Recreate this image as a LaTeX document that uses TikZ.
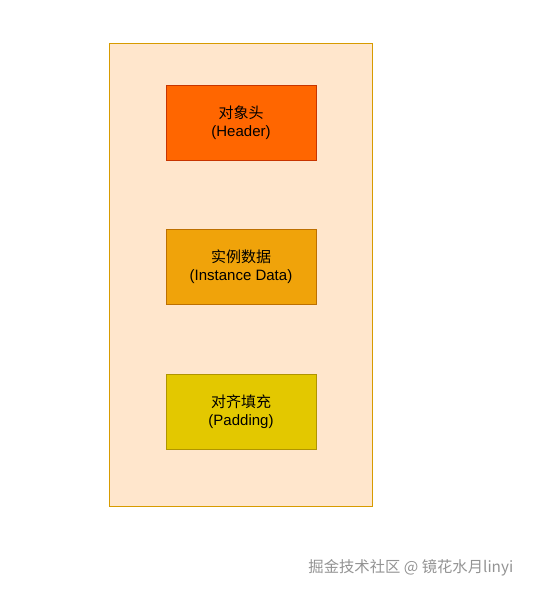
\documentclass[tikz,border=0pt]{standalone}
\usepackage{fontspec}
\setmainfont{Liberation Sans}
\newfontfamily\cjk{Noto Sans CJK SC}
\usetikzlibrary{positioning}
\definecolor{objfill}{HTML}{FFE6CC}
\definecolor{objline}{HTML}{D79B00}
\definecolor{headfill}{HTML}{FF6600}
\definecolor{headline}{HTML}{C73500}
\definecolor{datafill}{HTML}{F0A30A}
\definecolor{dataline}{HTML}{BD7000}
\definecolor{padfill}{HTML}{E3C800}
\definecolor{padline}{HTML}{B09500}
\tikzset{
x=0.75pt, y=0.75pt, % one unit is one pixel of the reference
node distance=51.75pt, % gap between the parts
every part/.style={rectangle, minimum width=112.5pt, minimum height=56.25pt, align=center, font=\fontsize{11.25}{13.5}\selectfont}, % sets the properties for each part
}
\begin{document}
\begin{tikzpicture}
        \useasboundingbox (0,0) rectangle (533,-593);
        \node[draw=objline, fill=objfill, minimum width=197.25pt, minimum height=347.25pt] (obj) at (240.5,-274.5) {};
        \node[every part, draw=headline, fill=headfill] (header) at (241,-122.5) {{\cjk 对象头}\\(Header)};
        \node[every part, draw=dataline, fill=datafill, below=of header] (data) {{\cjk 实例数据}\\(Instance Data)};
        \node[every part, draw=padline, fill=padfill, below=of data] (padding) {{\cjk 对齐填充}\\(Padding)};

        \node[anchor=east, text=gray!85, font=\cjk\fontsize{11.5}{13}\selectfont] (mark) at (518,-568) {掘金技术社区 @ 镜花水月linyi};
  \end{tikzpicture}
\end{document}
